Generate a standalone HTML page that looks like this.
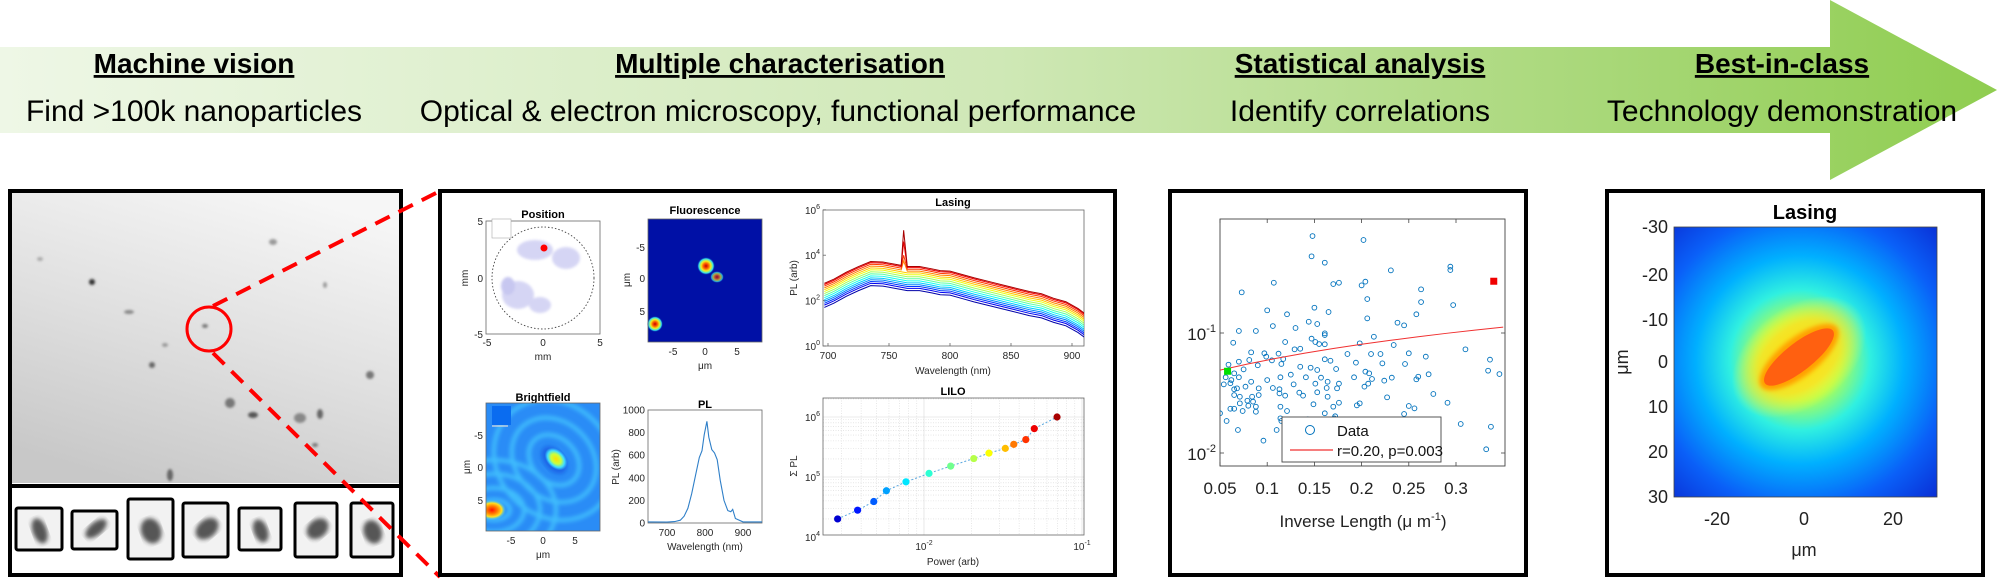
<!DOCTYPE html>
<html><head><meta charset="utf-8"><title>Nanoparticle pipeline</title>
<style>
html,body{margin:0;padding:0;background:#fff;}
svg{display:block;font-family:"Liberation Sans",Arial,sans-serif;}
.tk{font-size:10px;fill:#262626;}
.ttl{font-size:11px;font-weight:bold;fill:#000;}
.ax{fill:none;stroke:#666;stroke-width:0.8;}
.big{font-size:18px;fill:#222;}
</style></head>
<body>
<svg id="root" width="2000" height="580" viewBox="0 0 2000 580" xmlns="http://www.w3.org/2000/svg">
<defs>
  <linearGradient id="arrowGrad" x1="0" y1="0" x2="1" y2="0">
    <stop offset="0" stop-color="#eef7e6"/>
    <stop offset="0.5" stop-color="#cfe8b6"/>
    <stop offset="1" stop-color="#8fcd50"/>
  </linearGradient>
  <linearGradient id="greyGrad" x1="0.7" y1="0" x2="0.3" y2="1">
    <stop offset="0" stop-color="#f6f6f6"/>
    <stop offset="0.5" stop-color="#e0e0e0"/>
    <stop offset="1" stop-color="#c8c8c8"/>
  </linearGradient>
  <radialGradient id="heatGrad" gradientUnits="userSpaceOnUse" cx="1800" cy="360" r="200">
    <stop offset="0" stop-color="#ffff30"/>
    <stop offset="0.2" stop-color="#b0ff50"/>
    <stop offset="0.35" stop-color="#30f0e0"/>
    <stop offset="0.52" stop-color="#00b0ff"/>
    <stop offset="0.74" stop-color="#0a60f8"/>
    <stop offset="1" stop-color="#0a28d0"/>
  </radialGradient>
  <radialGradient id="coreGlow">
    <stop offset="0" stop-color="#ffd000"/>
    <stop offset="0.6" stop-color="#ffe020" stop-opacity="0.8"/>
    <stop offset="1" stop-color="#ffff40" stop-opacity="0"/>
  </radialGradient>
  <radialGradient id="spotGrad">
    <stop offset="0" stop-color="#c00000"/>
    <stop offset="0.3" stop-color="#ff6000"/>
    <stop offset="0.55" stop-color="#f0f020"/>
    <stop offset="0.8" stop-color="#30e0f0"/>
    <stop offset="1" stop-color="#0010a6" stop-opacity="0"/>
  </radialGradient>
  <radialGradient id="bfYellow">
    <stop offset="0" stop-color="#ffe000"/>
    <stop offset="0.45" stop-color="#c8ff40"/>
    <stop offset="0.75" stop-color="#40e0ff"/>
    <stop offset="1" stop-color="#40e0ff" stop-opacity="0"/>
  </radialGradient>
  <radialGradient id="bfRed">
    <stop offset="0" stop-color="#ff1000"/>
    <stop offset="0.4" stop-color="#ff8000"/>
    <stop offset="0.7" stop-color="#ffe020"/>
    <stop offset="1" stop-color="#40e0ff" stop-opacity="0"/>
  </radialGradient>
  <clipPath id="clipLasing"><rect x="823" y="210" width="261" height="136"/></clipPath>
  <clipPath id="clipBF"><rect x="486" y="403" width="114" height="128"/></clipPath>
  <clipPath id="clipHeat"><rect x="1674" y="227" width="263" height="270"/></clipPath>
  <clipPath id="clipScatter"><rect x="1220" y="219" width="285" height="247"/></clipPath>
  <filter id="blur2"><feGaussianBlur stdDeviation="2"/></filter>
  <filter id="blur1"><feGaussianBlur stdDeviation="1.2"/></filter>
</defs>

<!-- Arrow banner -->
<polygon points="0,47 1830,47 1830,0 1997,90 1830,180 1830,133 0,133" fill="url(#arrowGrad)"/>
<g fill="#000" text-anchor="middle">
  <text x="194" y="73" font-size="28" font-weight="bold" text-decoration="underline">Machine vision</text>
  <text x="194" y="121" font-size="30">Find &gt;100k nanoparticles</text>
  <text x="780" y="73" font-size="28" font-weight="bold" text-decoration="underline">Multiple characterisation</text>
  <text x="778" y="121" font-size="30">Optical &amp; electron microscopy, functional performance</text>
  <text x="1360" y="73" font-size="28" font-weight="bold" text-decoration="underline">Statistical analysis</text>
  <text x="1360" y="121" font-size="30">Identify correlations</text>
  <text x="1782" y="73" font-size="28" font-weight="bold" text-decoration="underline">Best-in-class</text>
  <text x="1782" y="121" font-size="30">Technology demonstration</text>
</g>

<!-- Panel 1: machine vision -->
<g>
  <rect x="10" y="191" width="391" height="292" fill="url(#greyGrad)"/>
  <g filter="url(#blur1)">
    <circle cx="92" cy="282" r="3" fill="#333"/>
    <ellipse cx="129" cy="312" rx="5" ry="2" fill="#888"/>
    <ellipse cx="40" cy="259" rx="3" ry="2" fill="#aaa"/>
    <ellipse cx="273" cy="242" rx="4" ry="3" fill="#999"/>
    <circle cx="152" cy="365" r="3" fill="#666"/>
    <ellipse cx="230" cy="403" rx="5" ry="5" fill="#777"/>
    <ellipse cx="253" cy="415" rx="5" ry="3" fill="#555"/>
    <ellipse cx="300" cy="418" rx="6" ry="5" fill="#888"/>
    <ellipse cx="320" cy="414" rx="3" ry="5" fill="#666"/>
    <ellipse cx="170" cy="475" rx="3" ry="6" fill="#666"/>
    <ellipse cx="315" cy="445" rx="3" ry="2" fill="#777"/>
    <ellipse cx="165" cy="345" rx="3" ry="2" fill="#999"/>
    <ellipse cx="325" cy="285" rx="2" ry="3" fill="#999"/>
    <ellipse cx="205" cy="326" rx="3" ry="2" fill="#777"/>
    <ellipse cx="370" cy="375" rx="4" ry="4" fill="#777"/>
  </g>
  <rect x="10" y="191" width="391" height="384" fill="none" stroke="#000" stroke-width="4"/>
  <line x1="10" y1="486" x2="401" y2="486" stroke="#000" stroke-width="4"/>
  <g id="thumbs"></g>
  <circle cx="209" cy="329" r="22" fill="none" stroke="#f00" stroke-width="3"/>
  <line x1="213" y1="306" x2="440" y2="191" stroke="#f00" stroke-width="4" stroke-dasharray="16 10"/>
  <line x1="213" y1="353" x2="440" y2="577" stroke="#f00" stroke-width="4" stroke-dasharray="16 10"/>
</g>

<!-- Panel 2 border -->
<rect x="440" y="191" width="675" height="384" fill="none" stroke="#000" stroke-width="4"/>

<!-- Position plot -->
<g>
  <text class="ttl" x="543" y="218" text-anchor="middle">Position</text>
  <g fill="#c4c4f0" opacity="0.7" filter="url(#blur1)">
    <ellipse cx="535" cy="250" rx="18" ry="10"/>
    <ellipse cx="566" cy="258" rx="14" ry="11"/>
    <ellipse cx="518" cy="295" rx="16" ry="14"/>
    <ellipse cx="508" cy="286" rx="7" ry="9" fill="#b0b0ea"/>
    <ellipse cx="540" cy="305" rx="11" ry="8"/>
  </g>
  <circle cx="543" cy="278" r="51" fill="none" stroke="#444" stroke-width="0.9" stroke-dasharray="1.5 2"/>
  <circle cx="544" cy="248" r="3.5" fill="#f00"/>
  <rect x="486" y="221" width="114" height="113" class="ax"/>
  <rect x="492" y="219" width="19" height="19" fill="#fff" stroke="#aaa" stroke-width="0.6"/>
  <g class="tk" text-anchor="end"><text x="483" y="225">5</text><text x="483" y="282">0</text><text x="483" y="338">-5</text></g>
  <g class="tk" text-anchor="middle"><text x="487" y="346">-5</text><text x="543" y="346">0</text><text x="600" y="346">5</text>
  <text x="543" y="360">mm</text></g>
  <text class="tk" transform="translate(468,278) rotate(-90)" text-anchor="middle">mm</text>
</g>

<!-- Fluorescence -->
<g>
  <text class="ttl" x="705" y="214" text-anchor="middle">Fluorescence</text>
  <rect x="648" y="219" width="114" height="123" fill="#0010a6"/>
  <ellipse cx="717" cy="277" rx="7" ry="6" fill="url(#spotGrad)" opacity="0.7"/>
  <ellipse cx="706" cy="266" rx="9" ry="9" fill="url(#spotGrad)"/>
  <ellipse cx="655" cy="324" rx="8" ry="8" fill="url(#spotGrad)"/>
  <rect x="648" y="219" width="114" height="123" class="ax"/>
  <g class="tk" text-anchor="end"><text x="645" y="251">-5</text><text x="645" y="282">0</text><text x="645" y="315">5</text></g>
  <g class="tk" text-anchor="middle"><text x="673" y="355">-5</text><text x="705" y="355">0</text><text x="737" y="355">5</text><text x="705" y="369">μm</text></g>
  <text class="tk" transform="translate(630,280) rotate(-90)" text-anchor="middle">μm</text>
</g>

<!-- Brightfield -->
<g>
  <text class="ttl" x="543" y="401" text-anchor="middle">Brightfield</text>
  <g clip-path="url(#clipBF)">
    <rect x="486" y="403" width="114" height="128" fill="#2a8cf6"/>
    <g fill="none" stroke="#48d0ff" stroke-width="4" opacity="0.75" filter="url(#blur2)">
      <ellipse cx="554" cy="460" rx="28" ry="22" transform="rotate(45 554 460)"/>
      <ellipse cx="554" cy="460" rx="46" ry="38" transform="rotate(45 554 460)"/>
      <ellipse cx="554" cy="460" rx="64" ry="56" transform="rotate(45 554 460)"/>
      <ellipse cx="494" cy="510" rx="16" ry="10"/>
      <ellipse cx="494" cy="510" rx="30" ry="22"/>
      <ellipse cx="494" cy="510" rx="46" ry="36"/>
      <ellipse cx="494" cy="510" rx="62" ry="50"/>
    </g>
    <ellipse cx="554" cy="460" rx="16" ry="10" transform="rotate(50 554 460)" fill="#1040d8" opacity="0.5" filter="url(#blur2)"/>
    <ellipse cx="556" cy="459" rx="13" ry="9" transform="rotate(45 556 459)" fill="url(#bfYellow)"/>
    <ellipse cx="492" cy="510" rx="14" ry="10" fill="url(#bfRed)"/>
    <rect x="492" y="406" width="19" height="19" fill="#0a6cf0"/>
    <line x1="492" y1="426" x2="508" y2="426" stroke="#ddd" stroke-width="1.2"/>
  </g>
  <rect x="486" y="403" width="114" height="128" class="ax"/>
  <g class="tk" text-anchor="end"><text x="483" y="439">-5</text><text x="483" y="471">0</text><text x="483" y="504">5</text></g>
  <g class="tk" text-anchor="middle"><text x="511" y="544">-5</text><text x="543" y="544">0</text><text x="575" y="544">5</text><text x="543" y="558">μm</text></g>
  <text class="tk" transform="translate(470,467) rotate(-90)" text-anchor="middle">μm</text>
</g>

<!-- PL spectrum -->
<g id="plPlot">
  <text class="ttl" x="705" y="408" text-anchor="middle">PL</text>
  <rect x="648" y="410" width="114" height="113" class="ax"/>
</g>

<!-- Lasing spectra -->
<g id="lasingPlot">
  <text class="ttl" x="953" y="206" text-anchor="middle">Lasing</text>
  <rect x="823" y="210" width="261" height="136" class="ax"/>
</g>

<!-- LILO -->
<g id="liloPlot">
  <text class="ttl" x="953" y="395" text-anchor="middle">LILO</text>
</g>

<!-- Panel 3 -->
<rect x="1170" y="191" width="356" height="384" fill="none" stroke="#000" stroke-width="4"/>
<g id="scatterPlot"></g>

<!-- Panel 4 -->
<rect x="1607" y="191" width="376" height="384" fill="none" stroke="#000" stroke-width="4"/>
<g>
  <text x="1805" y="219" text-anchor="middle" font-size="20" font-weight="bold">Lasing</text>
  <g clip-path="url(#clipHeat)">
    <rect x="1674" y="227" width="263" height="270" fill="url(#heatGrad)"/>
    <ellipse cx="1799" cy="357" rx="76" ry="50" transform="rotate(-38 1799 357)" fill="url(#coreGlow)"/>
    <ellipse cx="1799" cy="357" rx="48" ry="19" transform="rotate(-38 1799 357)" fill="#ffa000" filter="url(#blur2)"/>
    <ellipse cx="1799" cy="357" rx="43" ry="14" transform="rotate(-38 1799 357)" fill="#ff6010"/>
  </g>
  <rect x="1674" y="227" width="263" height="270" fill="none" stroke="#444" stroke-width="0.8"/>
  <g class="big" text-anchor="end">
    <text x="1668" y="233">-30</text><text x="1668" y="281">-20</text><text x="1668" y="326">-10</text>
    <text x="1668" y="368">0</text><text x="1668" y="413">10</text><text x="1668" y="458">20</text><text x="1668" y="503">30</text>
  </g>
  <g class="big" text-anchor="middle">
    <text x="1717" y="525">-20</text><text x="1804" y="525">0</text><text x="1893" y="525">20</text>
    <text x="1804" y="556">μm</text>
  </g>
  <text class="big" transform="translate(1628,362) rotate(-90)" text-anchor="middle">μm</text>
</g>

<script>
const NS = 'http://www.w3.org/2000/svg';
function mk(tag, attrs, parent) {
  const e = document.createElementNS(NS, tag);
  for (const k in attrs) e.setAttribute(k, attrs[k]);
  parent.appendChild(e);
  return e;
}
function jet(t) {
  const r = Math.max(0, Math.min(1, 1.5 - Math.abs(4 * t - 3)));
  const g = Math.max(0, Math.min(1, 1.5 - Math.abs(4 * t - 2)));
  const b = Math.max(0, Math.min(1, 1.5 - Math.abs(4 * t - 1)));
  return 'rgb(' + Math.round(r * 255) + ',' + Math.round(g * 255) + ',' + Math.round(b * 255) + ')';
}

/* ---------- Thumbnails ---------- */
const thumbBoxes = [[16,508,46,42],[72,511,45,38],[128,499,45,60],[183,503,45,54],[239,508,42,42],[295,503,42,54],[351,503,42,54]];
const thumbsG = document.getElementById('thumbs');
thumbBoxes.forEach((b, i) => {
  const g = mk('g', {}, thumbsG);
  
  
  mk('rect', {x: b[0], y: b[1], width: b[2], height: b[3], fill: '#f2f2f2'}, g);
  mk('ellipse', {cx: b[0] + b[2] / 2 + 2, cy: b[1] + b[3] / 2, rx: b[2] / 3.5, ry: b[3] / 6, fill: '#222', opacity: 0.75, filter: 'url(#blur2)', transform: 'rotate(' + (i % 2 ? -40 : 70) + ' ' + (b[0] + b[2] / 2) + ' ' + (b[1] + b[3] / 2) + ')'}, g);
  mk('rect', {x: b[0], y: b[1], width: b[2], height: b[3], fill: 'none', stroke: '#000', 'stroke-width': 3, rx: 2}, g);
});

/* ---------- PL spectrum ---------- */
const plWavelength = [650,700,720,735,745,755,765,775,785,792,798,805,810,818,825,832,840,850,860,868,873,880,900,950];
const plIntensity  = [10,8,12,25,60,130,260,420,580,640,780,900,760,650,620,560,380,200,110,100,120,40,10,10];
const plTickX = [700, 800, 900];
const plTickY = [0, 200, 400, 600, 800, 1000];
(function () {
  const g = document.getElementById('plPlot');
  const X = w => 648 + (w - 650) / 300 * 114;
  const Y = v => 523 - v / 1000 * 113;
  plTickY.forEach(v => {
    const t = mk('text', {x: 645, y: Y(v) + 3.5, class: 'tk', 'text-anchor': 'end'}, g);
    t.textContent = v;
  });
  plTickX.forEach(v => {
    const t = mk('text', {x: X(v), y: 536, class: 'tk', 'text-anchor': 'middle'}, g);
    t.textContent = v;
  });
  const xl = mk('text', {x: 705, y: 550, class: 'tk', 'text-anchor': 'middle', 'font-size': 11}, g);
  xl.textContent = 'Wavelength (nm)';
  const yl = mk('text', {class: 'tk', 'text-anchor': 'middle', transform: 'translate(619,467) rotate(-90)'}, g);
  yl.textContent = 'PL (arb)';
  const pts = plWavelength.map((w, i) => X(w).toFixed(1) + ',' + Y(plIntensity[i]).toFixed(1)).join(' ');
  const line = mk('polyline', {points: pts, fill: 'none', stroke: '#2f7fc8', 'stroke-width': 1.1}, g);
  
  
})();

/* ---------- Lasing spectra ---------- */
const lasWavelength = [697,705,715,725,735,745,755,760,765,775,785,792,800,810,820,835,850,865,875,885,895,905,910];
const lasShapeLog   = [2.76,2.95,3.25,3.5,3.72,3.7,3.6,3.55,3.5,3.5,3.4,3.32,3.3,3.15,3.0,2.8,2.6,2.4,2.3,2.1,1.95,1.65,1.45];
const lasLevelDrop  = [0,0.05,0.12,0.2,0.28,0.36,0.45,0.54,0.63,0.72,0.8,0.88,0.96,1.06];
const lasPeakLog    = [5.1,4.6,4.0,3.75,0,0,0,0,0,0,0,0,0,0];
const lasTickX = [700,750,800,850,900];
const lasTickExp = [0,2,4,6];
(function () {
  const g = document.getElementById('lasingPlot');
  const X = w => 828 + (w - 700) / 50 * 61;
  const Y = l => 346 - l * 22.7;
  lasTickExp.forEach(e => {
    const t = mk('text', {x: 820, y: Y(e) + 4, class: 'tk', 'text-anchor': 'end'}, g);
    t.textContent = '10';
    const s = mk('tspan', {dy: -5, 'font-size': 7}, t);
    s.textContent = e;
    mk('line', {x1: 823, x2: 826, y1: Y(e), y2: Y(e), stroke: '#666', 'stroke-width': 0.8}, g);
  });
  lasTickX.forEach(v => {
    const t = mk('text', {x: X(v), y: 359, class: 'tk', 'text-anchor': 'middle'}, g);
    t.textContent = v;
    mk('line', {x1: X(v), x2: X(v), y1: 346, y2: 343, stroke: '#666', 'stroke-width': 0.8}, g);
  });
  const xl = mk('text', {x: 953, y: 374, class: 'tk', 'text-anchor': 'middle', 'font-size': 11}, g);
  xl.textContent = 'Wavelength (nm)';
  const yl = mk('text', {class: 'tk', 'text-anchor': 'middle', 'font-size': 11, transform: 'translate(797,278) rotate(-90)'}, g);
  yl.textContent = 'PL (arb)';
  const cg = mk('g', {'clip-path': 'url(#clipLasing)'}, g);
  for (let k = lasLevelDrop.length - 1; k >= 0; k--) {
    const pts = [];
    lasWavelength.forEach((w, i) => {
      const l = lasShapeLog[i] - lasLevelDrop[k];
      pts.push(X(w) + ',' + Y(l));
      if (w === 760 && lasPeakLog[k] > 0) { pts.push(X(762) + ',' + Y(lasPeakLog[k])); }
    });
    const pl = mk('polyline', {points: pts.join(' '), fill: 'none', stroke: jet(1 - k / (lasLevelDrop.length - 1) * 0.92 - 0.04), 'stroke-width': 1}, cg);
    
    
  }
})();

/* ---------- LILO ---------- */
const liloPower = [0.00284,0.0038,0.00481,0.00578,0.00769,0.01076,0.01475,0.02065,0.02577,0.0327,0.037,0.0441,0.0499,0.0695];
const liloSumPL = [2.0e4,2.8e4,3.9e4,5.9e4,8.3e4,1.15e5,1.52e5,2.03e5,2.5e5,3.0e5,3.5e5,4.2e5,6.4e5,1.0e6];
const liloTickExpX = [-2, -1];
const liloTickExpY = [4, 5, 6];
(function () {
  const g = document.getElementById('liloPlot');
  const X = p => 924 + (Math.log10(p) + 2) * 158;
  const Y = v => 417 + (6 - Math.log10(v)) * 60;
  for (let d = -3; d <= -1; d++) for (let m = 1; m <= 9; m++) {
    const x = X(m * Math.pow(10, d));
    if (x < 823 || x > 1084) continue;
    mk('line', {x1: x, x2: x, y1: 398, y2: 535, stroke: '#d8d8d8', 'stroke-width': 0.6, 'stroke-dasharray': m === 1 ? '' : '1 1.5'}, g);
  }
  for (let d = 4; d <= 6; d++) for (let m = 1; m <= 9; m++) {
    const y = Y(m * Math.pow(10, d));
    if (y < 398 || y > 535) continue;
    mk('line', {x1: 823, x2: 1084, y1: y, y2: y, stroke: '#d8d8d8', 'stroke-width': 0.6, 'stroke-dasharray': m === 1 ? '' : '1 1.5'}, g);
  }
  mk('rect', {x: 823, y: 398, width: 261, height: 137, class: 'ax'}, g);
  liloTickExpY.forEach(e => {
    const t = mk('text', {x: 820, y: Y(Math.pow(10, e)) + 4, class: 'tk', 'text-anchor': 'end'}, g);
    t.textContent = '10';
    const s = mk('tspan', {dy: -5, 'font-size': 7}, t);
    s.textContent = e;
  });
  liloTickExpX.forEach(e => {
    const t = mk('text', {x: X(Math.pow(10, e)), y: 550, class: 'tk', 'text-anchor': 'middle'}, g);
    t.textContent = '10';
    const s = mk('tspan', {dy: -5, 'font-size': 7}, t);
    s.textContent = e;
  });
  const xl = mk('text', {x: 953, y: 565, class: 'tk', 'text-anchor': 'middle', 'font-size': 11}, g);
  xl.textContent = 'Power (arb)';
  const yl = mk('text', {class: 'tk', 'text-anchor': 'middle', 'font-size': 11, transform: 'translate(797,466) rotate(-90)'}, g);
  yl.textContent = 'Σ PL';
  const pts = liloPower.map((p, i) => X(p) + ',' + Y(liloSumPL[i])).join(' ');
  const ln = mk('polyline', {points: pts, fill: 'none', stroke: '#5aa8e0', 'stroke-width': 1, 'stroke-dasharray': '2 2'}, g);
  
  
  liloPower.forEach((p, i) => {
    const c = mk('circle', {cx: X(p), cy: Y(liloSumPL[i]), r: 3.6, fill: jet(0.08 + i / (liloPower.length - 1) * 0.88)}, g);
    
    
  });
})();

/* ---------- Correlation scatter ---------- */
const invLength = [0.148,0.202,0.147,0.161,0.231,0.294,0.294,0.107,0.170,0.176,0.200,0.204,0.263,0.073,0.206,0.263,0.297,0.100,0.150,0.165,0.121,0.258,0.144,0.153,0.206,0.106,0.130,0.238,0.245,0.070,0.088,0.161,0.161,0.213,0.310,0.064,0.119,0.147,0.151,0.155,0.198,0.234,0.083,0.097,0.112,0.129,0.135,0.161,0.185,0.210,0.220,0.250,0.268,0.336,0.059,0.070,0.081,0.105,0.117,0.099,0.161,0.167,0.194,0.222,0.246,0.334,0.346,0.271,0.260,0.232,0.204,0.208,0.192,0.173,0.153,0.146,0.135,0.115,0.090,0.075,0.065,0.056,0.062,0.070,0.083,0.100,0.114,0.125,0.141,0.157,0.164,0.176,0.211,0.224,0.258,0.054,0.061,0.065,0.068,0.077,0.091,0.106,0.113,0.128,0.151,0.163,0.174,0.203,0.207,0.065,0.071,0.084,0.091,0.113,0.119,0.134,0.138,0.153,0.164,0.176,0.170,0.276,0.079,0.085,0.088,0.071,0.080,0.061,0.065,0.074,0.088,0.114,0.121,0.149,0.161,0.172,0.195,0.198,0.250,0.256,0.291,0.227,0.050,0.057,0.114,0.115,0.126,0.143,0.163,0.134,0.153,0.171,0.069,0.110,0.180,0.096,0.245,0.305,0.337,0.332];
const log10Ratio = [-0.192,-0.225,-0.361,-0.414,-0.478,-0.447,-0.475,-0.581,-0.592,-0.581,-0.603,-0.572,-0.636,-0.661,-0.717,-0.742,-0.767,-0.811,-0.789,-0.825,-0.844,-0.844,-0.906,-0.925,-0.878,-0.942,-0.958,-0.914,-0.936,-0.983,-0.983,-1.003,-1.017,-1.031,-1.136,-1.081,-1.075,-1.047,-1.075,-1.092,-1.086,-1.100,-1.161,-1.169,-1.172,-1.136,-1.131,-1.094,-1.175,-1.175,-1.175,-1.169,-1.197,-1.222,-1.264,-1.239,-1.225,-1.228,-1.217,-1.197,-1.219,-1.231,-1.247,-1.253,-1.258,-1.314,-1.342,-1.344,-1.364,-1.372,-1.322,-1.336,-1.369,-1.300,-1.308,-1.289,-1.281,-1.258,-1.269,-1.303,-1.336,-1.369,-1.392,-1.369,-1.406,-1.392,-1.369,-1.347,-1.369,-1.372,-1.406,-1.422,-1.383,-1.397,-1.386,-1.428,-1.419,-1.469,-1.461,-1.447,-1.461,-1.458,-1.469,-1.428,-1.422,-1.458,-1.461,-1.447,-1.422,-1.517,-1.531,-1.531,-1.517,-1.503,-1.522,-1.497,-1.522,-1.494,-1.531,-1.581,-1.614,-1.508,-1.564,-1.572,-1.614,-1.586,-1.606,-1.631,-1.631,-1.650,-1.656,-1.614,-1.650,-1.594,-1.669,-1.694,-1.603,-1.586,-1.608,-1.628,-1.581,-1.536,-1.669,-1.733,-1.711,-1.733,-1.733,-1.719,-1.747,-1.781,-1.758,-1.711,-1.808,-1.808,-1.864,-1.897,-1.675,-1.758,-1.781,-1.969];
const fitX = [0.05,0.08,0.11,0.14,0.17,0.20,0.23,0.26,0.29,0.32,0.35];
const fitY = [0.049,0.0553,0.0616,0.0679,0.0742,0.0805,0.0868,0.0931,0.0994,0.1057,0.112];
const highlightGreen = [0.058, 0.048];
const highlightRed = [0.34, 0.27];
const scatterTickX = ['0.05','0.1','0.15','0.2','0.25','0.3'];
const scatterTickExpY = [-1, -2];
(function () {
  const g = document.getElementById('scatterPlot');
  const X = v => 1220 + (v - 0.05) * 944;
  const YL = l => 333 - (l + 1) * 120;
  mk('rect', {x: 1220, y: 219, width: 285, height: 247, fill: 'none', stroke: '#444', 'stroke-width': 0.9}, g);
  scatterTickX.forEach(s => {
    const x = X(parseFloat(s));
    mk('line', {x1: x, x2: x, y1: 466, y2: 462, stroke: '#444', 'stroke-width': 0.8}, g);
    mk('line', {x1: x, x2: x, y1: 219, y2: 223, stroke: '#444', 'stroke-width': 0.8}, g);
    const t = mk('text', {x: x, y: 494, 'font-size': 17, fill: '#222', 'text-anchor': 'middle'}, g);
    t.textContent = s;
  });
  scatterTickExpY.forEach(e => {
    const y = YL(e);
    mk('line', {x1: 1220, x2: 1224, y1: y, y2: y, stroke: '#444', 'stroke-width': 0.8}, g);
    mk('line', {x1: 1505, x2: 1501, y1: y, y2: y, stroke: '#444', 'stroke-width': 0.8}, g);
    const t = mk('text', {x: 1216, y: y + 7, 'font-size': 17, fill: '#222', 'text-anchor': 'end'}, g);
    t.textContent = '10';
    const s = mk('tspan', {dy: -8, 'font-size': 11}, t);
    s.textContent = e;
  });
  const xl = mk('text', {x: 1363, y: 527, 'font-size': 17, fill: '#222', 'text-anchor': 'middle'}, g);
  xl.textContent = 'Inverse Length (μ m';
  const sup = mk('tspan', {dy: -7, 'font-size': 11}, xl);
  sup.textContent = '-1';
  const cl = mk('tspan', {dy: 7}, xl);
  cl.textContent = ')';
  
  
  const cg = mk('g', {'clip-path': 'url(#clipScatter)'}, g);
  invLength.forEach((v, i) => {
    const c = mk('circle', {cx: X(v), cy: YL(log10Ratio[i]), r: 2.4, fill: 'none', stroke: '#0072bd', 'stroke-width': 0.9}, cg);
    
    
  });
  const fpts = fitX.map((v, i) => X(v) + ',' + YL(Math.log10(fitY[i]))).join(' ');
  const fit = mk('polyline', {points: fpts, fill: 'none', stroke: '#f03030', 'stroke-width': 1}, cg);
  
  
  const gs = mk('rect', {x: X(highlightGreen[0]) - 3.5, y: YL(Math.log10(highlightGreen[1])) - 3.5, width: 7, height: 7, fill: '#00e000'}, g);
  
  
  const rs = mk('rect', {x: X(highlightRed[0]) - 3.5, y: YL(Math.log10(highlightRed[1])) - 3.5, width: 7, height: 7, fill: '#f00000'}, g);
  
  
  const lg = mk('g', {}, g);
  
  
  mk('rect', {x: 1282, y: 417, width: 159, height: 45, fill: '#fff', stroke: '#444', 'stroke-width': 0.9}, lg);
  mk('circle', {cx: 1310, cy: 430, r: 4.5, fill: 'none', stroke: '#0072bd', 'stroke-width': 1}, lg);
  const t1 = mk('text', {x: 1337, y: 436, 'font-size': 15, fill: '#111'}, lg);
  t1.textContent = 'Data';
  mk('line', {x1: 1290, x2: 1333, y1: 450, y2: 450, stroke: '#f03030', 'stroke-width': 1.2}, lg);
  const t2 = mk('text', {x: 1337, y: 456, 'font-size': 15, fill: '#111'}, lg);
  t2.textContent = 'r=0.20, p=0.003';
})();
</script>
</svg>
</body></html>
